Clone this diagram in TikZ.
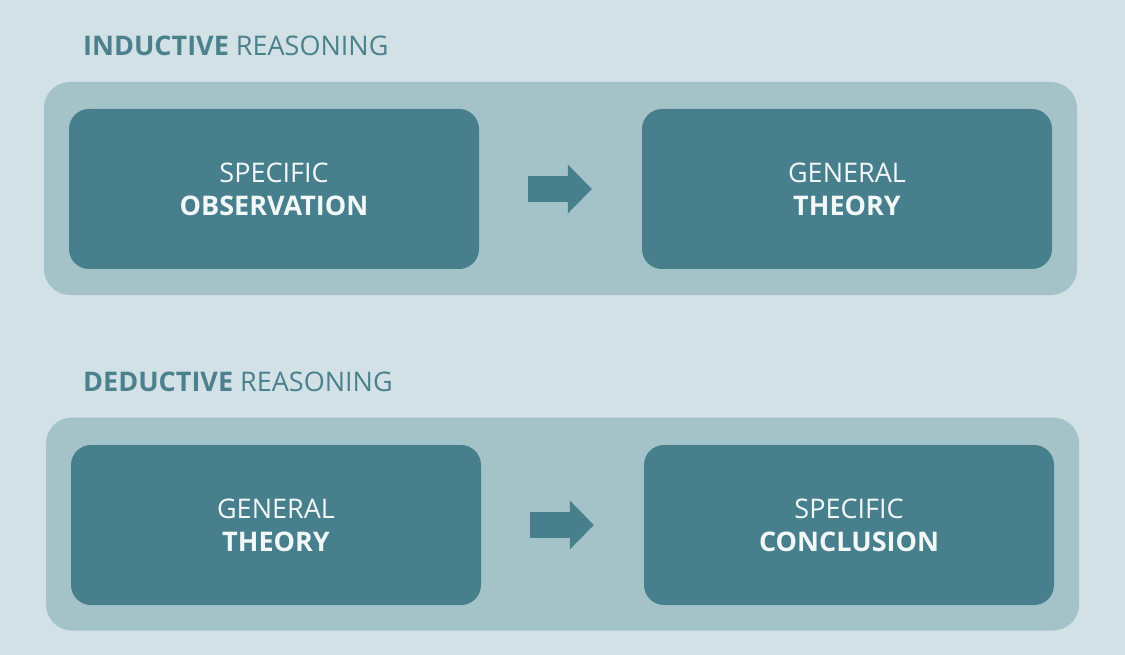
\documentclass[tikz,border=0pt]{standalone}
\usepackage{fontspec}
\setmainfont{Open Sans}
\definecolor{bgteal}{HTML}{D2E1E5}
\definecolor{panelteal}{HTML}{A3C3C8}
\definecolor{boxteal}{HTML}{477F8C}
\definecolor{titleteal}{HTML}{4B818D}
\definecolor{boxtext}{HTML}{F2F7F8}
\usetikzlibrary{arrows.meta, positioning, calc}

\begin{document}
\begin{tikzpicture}[x=1pt, y=-1pt,
    panel/.style={fill=panelteal, rounded corners=26pt, minimum width=1033pt, minimum height=213pt, inner sep=0pt},
    stepbox/.style={fill=boxteal, rounded corners=20pt, minimum width=410pt, minimum height=160pt, inner sep=0pt,
      text=boxtext, align=center, font=\fontsize{27}{33}\selectfont},
    heading/.style={anchor=base west, inner sep=0pt, text=titleteal, font=\fontsize{27}{32}\selectfont},
    fatarrow/.style={draw=boxteal, line width=26pt,
      -{Triangle[length=24pt, width=49pt, line width=0pt]}, shorten <=49pt, shorten >=50pt}]
  % background
  \fill[bgteal] (0,0) rectangle (1125,655);
  \useasboundingbox (0,0) rectangle (1125,655);

  % inductive
  \node[heading] (indtitle) at (83,55.5) {\textbf{INDUCTIVE} REASONING};
  \node[panel] (indpanel) at (560.5,188.5) {};
  \node[stepbox] (indobs) at (274,189) {SPECIFIC\\\textbf{OBSERVATION}};
  \node[stepbox] (indthe) at (847,189) {GENERAL\\\textbf{THEORY}};
  \draw[fatarrow] (indobs) -- (indthe);

  % deductive
  \node[heading] (dedtitle) at (83,391.5) {\textbf{DEDUCTIVE} REASONING};
  \node[panel] (dedpanel) at (562.5,524) {};
  \node[stepbox] (dedthe) at (276,525) {GENERAL\\\textbf{THEORY}};
  \node[stepbox] (dedcon) at (849,525) {SPECIFIC\\\textbf{CONCLUSION}};
  \draw[fatarrow] (dedthe) -- (dedcon);
\end{tikzpicture}
\end{document}
